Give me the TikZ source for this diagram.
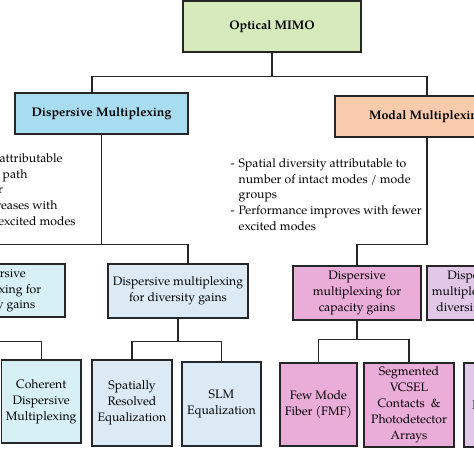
\documentclass[tikz,border=0pt]{standalone}
\usepackage{fontspec}
\setmainfont{TeX Gyre Pagella}
\usepackage{tikz}
\usetikzlibrary{calc}

\definecolor{mimogreen}{RGB}{214,234,188}
\definecolor{dispblue}{RGB}{168,220,240}
\definecolor{modalpeach}{RGB}{248,203,172}
\definecolor{capcyan}{RGB}{214,240,245}
\definecolor{divblue}{RGB}{220,234,246}
\definecolor{cappink}{RGB}{234,172,216}
\definecolor{divlilac}{RGB}{226,200,232}

\begin{document}
\begin{tikzpicture}[x=1bp, y=-1bp,
  every node/.style = {shape=rectangle, draw=black!85, line width=1.4bp, align=center,
    inner sep=1bp, font=\fontsize{12.3}{16}\selectfont},
  head/.style = {font=\fontsize{12.5}{16}\selectfont\bfseries, minimum height=41bp},
  leaf/.style = {minimum width=#1, minimum height=84bp},
  notes/.style = {draw=none, align=left, inner sep=0pt, anchor=north west},
  conn/.style = {line width=1.3bp, black!85}]

  \clip (0,0) rectangle (474,474);

  % top level
  \node[fill=mimogreen, head, minimum width=178bp, minimum height=51bp] (mimo) at (272,26.4) {Optical MIMO};
  \node[fill=dispblue, head, minimum width=173bp] (disp) at (101.5,113.5) {Dispersive Multiplexing};
  \node[fill=modalpeach, head, minimum width=184bp] (modal) at (427,116.5) {Modal Multiplexing};

  \node[notes] (dispnotes) at (-100,152.5) {\makebox[8bp][l]{-}Spatial diversity attributable\\
    \hspace*{8bp}to multiplicity of path\\
    \hspace*{8bp}delays per carrier\\
    \makebox[8bp][l]{-}Performance increases with\\
    \hspace*{8bp}large number of excited modes};
  \node[notes] (modalnotes) at (230,157.5) {\makebox[8bp][l]{-}Spatial diversity attributable to\\
    \hspace*{8bp}number of intact modes / mode\\
    \hspace*{8bp}groups\\
    \makebox[8bp][l]{-}Performance improves with fewer\\
    \hspace*{8bp}excited modes};

  % second level
  \node[fill=capcyan, minimum width=136bp, minimum height=53bp] (dcap) at (-3,290.5) {Dispersive\\multiplexing for\\capacity gains};
  \node[fill=divblue, minimum width=140bp, minimum height=54bp] (ddiv) at (178,291) {Dispersive multiplexing\\for diversity gains};
  \node[fill=cappink, minimum width=128bp, minimum height=54bp] (mcap) at (357,293) {Dispersive\\multiplexing for\\capacity gains};
  \node[fill=divlilac, minimum width=98bp, minimum height=54bp] (mdiv) at (476,293) {Dispersive\\multiplexing for\\diversity gains};

  % third level
  \node[fill=capcyan, leaf=79.5bp, minimum height=83bp] (coh) at (41.2,401.5) {Coherent\\Dispersive\\Multiplexing};
  \node[fill=divblue, leaf=80bp, minimum height=86bp] (spat) at (132,403) {Spatially\\Resolved\\Equalization};
  \node[fill=divblue, leaf=79bp] (slm) at (221.5,404) {SLM\\Equalization};
  \node[fill=cappink, leaf=77bp, minimum height=83bp] (fmf) at (318.5,404.5) {Few Mode\\Fiber (FMF)};
  \node[fill=cappink, leaf=90bp] (vcsel) at (409,405) {Segmented\\VCSEL\\Contacts \ \&\\Photodetector\\Arrays};
  \node[fill=divlilac, leaf=80bp] (mimodsp) at (504,405) {MIMO DSP};

  % connectors
  \draw[conn] (mimo.south) -- ++(0,24) coordinate (mimobus);
  \draw[conn] ([xshift=-9.5bp]disp.north) |- (mimobus) -| (modal.north);

  \draw[conn] (disp.south) -- ++(0,110) coordinate (dispbus);
  \draw[conn] (dcap.north) |- (dispbus) -| ([xshift=10bp]ddiv.north);
  \draw[conn] (modal.south) -- ++(0,107) coordinate (modalbus);
  \draw[conn] (modalbus) -| (mcap.north);

  \draw[conn] (dcap.south) -- ++(0,24) coordinate (dcapbus);
  \draw[conn] (dcapbus) -| (coh.north);
  \draw[conn] (ddiv.south) -- ++(0,23) coordinate (ddivbus);
  \draw[conn] (spat.north) |- (ddivbus) -| (slm.north);
  \draw[conn] (mcap.south) -- ++(0,19) coordinate (mcapbus);
  \draw[conn] (fmf.north) |- (mcapbus) -| (vcsel.north);
\end{tikzpicture}
\end{document}
